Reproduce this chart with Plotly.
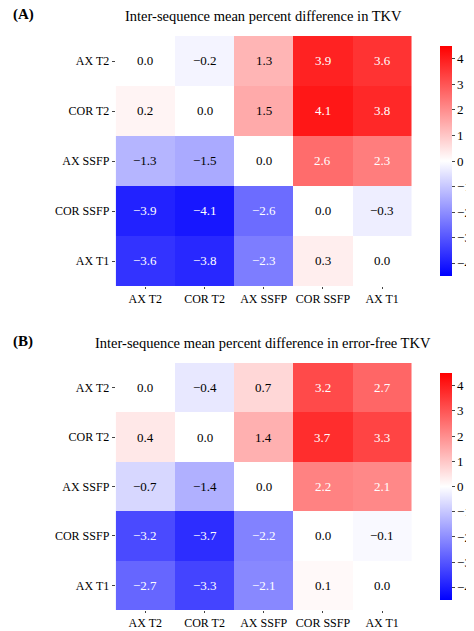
import plotly.graph_objects as go

labels = ["AX T2", "COR T2", "AX SSFP", "COR SSFP", "AX T1"]
vals_a = [[0.0, -0.2, 1.3, 3.9, 3.6],
          [0.2, 0.0, 1.5, 4.1, 3.8],
          [-1.3, -1.5, 0.0, 2.6, 2.3],
          [-3.9, -4.1, -2.6, 0.0, -0.3],
          [-3.6, -3.8, -2.3, 0.3, 0.0]]
vals_b = [[0.0, -0.4, 0.7, 3.2, 2.7],
          [0.4, 0.0, 1.4, 3.7, 3.3],
          [-0.7, -1.4, 0.0, 2.2, 2.1],
          [-3.2, -3.7, -2.2, 0.0, -0.1],
          [-2.7, -3.3, -2.1, 0.1, 0.0]]
titles = ["Inter-sequence mean percent difference in TKV",
          "Inter-sequence mean percent difference in error-free TKV"]
panels = ["(A)", "(B)"]
cb_ticks = [-4, -3, -2, -1, 0, 1, 2, 3, 4]

W, H = 474, 631
FONT = "Liberation Serif, Times New Roman, serif"
bwr = [[0, "rgb(0,0,255)"], [0.5, "rgb(255,255,255)"], [1, "rgb(255,0,0)"]]
doms = [(1 - 278 / H, 1 - 28 / H), (1 - 602 / H, 1 - 355 / H)]

fig = go.Figure()
ann = []
for i, (vals, dom) in enumerate(zip([vals_a, vals_b], doms)):
    xa = "x" if i == 0 else "x2"
    ya = "y" if i == 0 else "y2"
    fig.add_trace(go.Heatmap(
        z=vals, x=labels, y=labels, xaxis=xa, yaxis=ya,
        colorscale=bwr, zmin=-4.5, zmax=4.5, xgap=0, ygap=0,
        hoverinfo="skip",
        colorbar=dict(x=435 / W, xanchor="left", thickness=12, len=dom[1] - dom[0],
                      y=(dom[0] + dom[1]) / 2, yanchor="middle", outlinewidth=0,
                      tickvals=cb_ticks,
                      ticks="outside", ticklen=3, tickfont=dict(family=FONT, size=13, color="black")),
    ))
    for r, row in enumerate(vals):
        for c, v in enumerate(row):
            ann.append(dict(x=labels[c], y=labels[r], xref=xa, yref=ya,
                            text=f"{v:.1f}".replace("-", "\u2212"), showarrow=False,
                            font=dict(family=FONT, size=13,
                                      color="white" if abs(v) >= 2 else "black")))
    ann.append(dict(x=263 / W, y=dom[1] + 10 / H, xref="paper", yref="paper",
                    text=titles[i], showarrow=False, xanchor="center", yanchor="bottom",
                    font=dict(family=FONT, size=14.5, color="black")))
    ann.append(dict(x=3 / W, y=dom[1] + 11 / H, xref="paper", yref="paper",
                    text="<b>" + panels[i] + "</b>", showarrow=False, xanchor="left", yanchor="bottom",
                    font=dict(family=FONT, size=15, color="black")))

axx = dict(domain=[111 / W, 416 / W], ticks="outside", ticklen=2, showgrid=False,
           tickfont=dict(family=FONT, size=12, color="black"), tickangle=0)
axy = dict(autorange="reversed", ticks="outside", ticklen=3, showgrid=False,
           tickfont=dict(family=FONT, size=12, color="black"))
fig.update_layout(
    width=W, height=H, margin=dict(l=0, r=0, t=0, b=0),
    paper_bgcolor="white", plot_bgcolor="white",
    xaxis=dict(axx, anchor="y"), yaxis=dict(axy, domain=list(doms[0]), anchor="x"),
    xaxis2=dict(axx, anchor="y2"), yaxis2=dict(axy, domain=list(doms[1]), anchor="x2"),
    annotations=ann,
)
fig.write_html("out.html")
